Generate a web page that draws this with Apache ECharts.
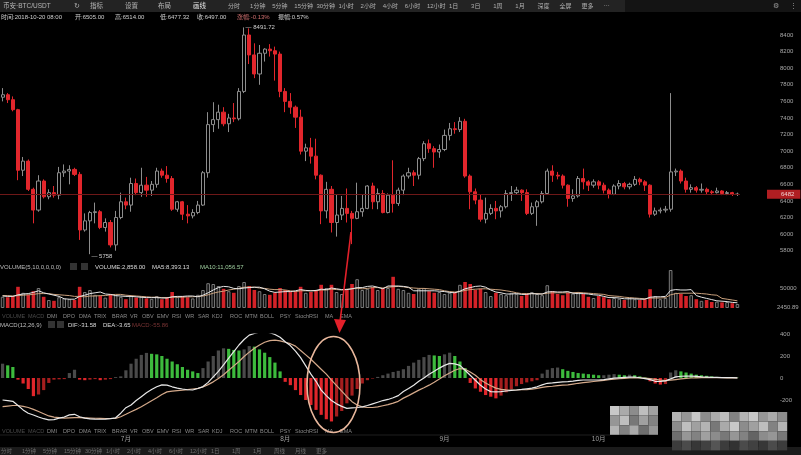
<!DOCTYPE html>
<html><head><meta charset="utf-8">
<script src="https://cdn.jsdelivr.net/npm/echarts@6/dist/echarts.min.js"></script>
<style>html,body{margin:0;padding:0;background:#000;}#c{width:801px;height:455px;}</style>
</head><body><div id="c"></div>
<script>
// ---------------- DATA ----------------
const dates = [
'06-07','06-08','06-09','06-10','06-11','06-12','06-13','06-14','06-15','06-16','06-17','06-18','06-19','06-20','06-21','06-22','06-23','06-24','06-25','06-26','06-27','06-28','06-29','06-30',
'07-01','07-02','07-03','07-04','07-05','07-06','07-07','07-08','07-09','07-10','07-11','07-12','07-13','07-14','07-15','07-16','07-17','07-18','07-19','07-20','07-21','07-22','07-23','07-24','07-25','07-26','07-27','07-28','07-29','07-30','07-31',
'08-01','08-02','08-03','08-04','08-05','08-06','08-07','08-08','08-09','08-10','08-11','08-12','08-13','08-14','08-15','08-16','08-17','08-18','08-19','08-20','08-21','08-22','08-23','08-24','08-25','08-26','08-27','08-28','08-29','08-30','08-31',
'09-01','09-02','09-03','09-04','09-05','09-06','09-07','09-08','09-09','09-10','09-11','09-12','09-13','09-14','09-15','09-16','09-17','09-18','09-19','09-20','09-21','09-22','09-23','09-24','09-25','09-26','09-27','09-28','09-29','09-30',
'10-01','10-02','10-03','10-04','10-05','10-06','10-07','10-08','10-09','10-10','10-11','10-12','10-13','10-14','10-15','10-16','10-17','10-18','10-19','10-20','10-21','10-22','10-23','10-24','10-25','10-26','10-27','10-28'];
const monthTicks = {'07-01':'7月','08-01':'8月','09-01':'9月','10-01':'10月'};

// [open, close, low, high]
const candles = [
[7650,7680,7600,7760],[7680,7620,7580,7700],[7620,7500,7480,7660],[7500,6770,6650,7510],[6770,6880,6700,6930],[6880,6540,6520,6900],[6540,6290,6130,6560],[6290,6640,6270,6710],[6640,6450,6430,6660],[6450,6500,6420,6540],[6500,6470,6440,6580],[6470,6740,6420,6810],[6740,6760,6690,6840],[6760,6780,6600,6830],[6780,6720,6700,6800],[6720,6050,5930,6750],[6050,6160,6030,6250],[6160,6260,5758,6280],[6260,6270,6130,6380],[6270,6080,6060,6290],[6080,6140,6030,6190],[6140,5870,5840,6170],[5870,6200,5800,6280],[6200,6390,6180,6500],
[6390,6350,6300,6440],[6350,6610,6270,6680],[6610,6500,6470,6670],[6500,6590,6450,6800],[6590,6530,6450,6690],[6530,6600,6460,6640],[6600,6760,6560,6800],[6760,6710,6680,6790],[6710,6670,6620,6820],[6670,6300,6280,6700],[6300,6390,6270,6400],[6390,6240,6170,6400],[6240,6220,6130,6350],[6220,6260,6190,6300],[6260,6350,6240,6400],[6350,6740,6340,6760],[6740,7320,6680,7470],[7320,7380,7230,7590],[7380,7470,7270,7560],[7470,7330,7300,7530],[7330,7400,7230,7450],[7400,7390,7350,7580],[7390,7720,7370,7760],[7720,8400,7700,8491.72],[8400,8160,8050,8480],[8160,7930,7880,8300],[7930,8180,7800,8280],[8180,8230,8080,8240],[8230,8210,8140,8290],[8210,8170,7850,8260],[8170,7720,7650,8200],
[7720,7600,7470,7760],[7600,7530,7450,7700],[7530,7410,7280,7550],[7410,7000,6960,7500],[7000,7040,6880,7090],[7040,6940,6850,7160],[6940,6710,6660,7150],[6710,6280,6120,6720],[6280,6540,6190,6630],[6540,6140,6020,6580],[6140,6230,5970,6480],[6230,6310,6170,6460],[6310,6250,6140,6550],[6250,6190,5880,6280],[6190,6270,6180,6620],[6270,6310,6210,6480],[6310,6580,6300,6590],[6580,6390,6300,6620],[6390,6490,6300,6550],[6490,6260,6250,6530],[6260,6470,6250,6490],[6470,6370,6260,6890],[6370,6530,6340,6560],[6530,6700,6470,6720],[6700,6740,6670,6800],[6740,6710,6580,6770],[6710,6910,6660,6930],[6910,7090,6880,7120],[7090,7030,6980,7140],[7030,6990,6800,7060],[6990,7020,6920,7080],
[7020,7190,7000,7260],[7190,7270,7130,7340],[7270,7260,7210,7350],[7260,7360,7230,7410],[7360,6700,6680,7390],[6700,6510,6300,6720],[6510,6410,6360,6550],[6410,6180,6150,6480],[6180,6250,6130,6440],[6250,6310,6230,6360],[6310,6280,6180,6400],[6280,6330,6200,6350],[6330,6490,6310,6530],[6490,6500,6400,6580],[6500,6530,6480,6570],[6530,6500,6400,6540],[6500,6250,6230,6540],[6250,6330,6230,6380],[6330,6390,6100,6410],[6390,6490,6370,6520],[6490,6760,6480,6790],[6760,6710,6630,6830],[6710,6700,6660,6750],[6700,6590,6550,6720],[6590,6430,6330,6600],[6430,6460,6390,6540],[6460,6670,6440,6700],[6670,6630,6540,6790],[6630,6590,6520,6650],[6590,6630,6560,6660],
[6630,6590,6540,6650],[6590,6530,6490,6620],[6530,6480,6430,6550],[6480,6580,6470,6600],[6580,6610,6540,6650],[6610,6570,6540,6630],[6570,6600,6540,6620],[6600,6660,6580,6700],[6660,6630,6590,6680],[6630,6590,6520,6650],[6590,6240,6200,6600],[6240,6280,6220,6320],[6280,6290,6250,6320],[6290,6300,6260,6340],[6300,6750,6270,7700],[6750,6760,6700,6790],[6760,6640,6610,6780],[6640,6540,6500,6680],[6540,6560,6500,6600],[6560,6530,6500,6580],[6530,6540,6500,6610],[6540,6510,6480,6560],[6510,6500,6470,6530],[6500,6520,6490,6560],[6520,6490,6470,6530],[6490,6500,6470,6520],[6500,6480,6460,6510],[6480,6482,6460,6500]];
const lastPrice = 6482;
const highMark = {index:47, value:8491.72};
const lowMark = {index:17, value:5758};

// volume in thousands
const volumeK = [
28,27,30,53,38,33,42,50,28,20,18,27,24,22,20,53,40,45,33,30,26,35,32,28,
22,30,26,28,24,23,30,22,25,40,28,30,27,24,33,45,62,60,55,48,42,38,55,65,55,45,42,35,33,38,50,
45,40,42,53,38,40,45,58,50,58,40,35,45,60,72,45,48,52,45,50,50,78,48,45,38,35,48,50,42,38,40,
35,38,40,58,65,60,45,48,40,30,38,35,32,38,35,30,36,40,35,32,57,42,35,32,38,36,40,35,28,25,
30,27,22,25,23,20,25,22,20,22,47,30,22,25,95,38,35,30,32,22,18,20,15,16,14,15,12,10];
const volMA5K = [
30,29,29,33,35,36,39,43,38,35,32,29,23,22,22,29,32,36,38,40,35,34,31,30,
29,29,28,27,26,26,26,25,25,28,29,29,30,30,28,32,38,45,51,54,53,49,48,50,51,52,52,48,42,39,40,
41,41,43,46,44,43,44,47,46,50,48,46,46,48,51,51,54,55,52,48,55,55,55,54,52,43,43,43,43,43,42,
41,39,38,42,48,51,54,55,52,45,40,38,35,35,36,34,34,36,35,35,40,41,40,40,41,37,36,36,35,33,
32,29,26,26,25,23,23,23,22,22,27,28,28,29,44,46,45,45,46,31,27,24,21,18,17,16,14,13];
const volMA10K = [
31,31,30,31,32,33,34,36,36,36,34,33,32,31,29,29,28,30,30,31,31,33,34,34,
32,31,30,29,28,27,27,26,26,27,27,27,28,28,29,30,33,37,40,42,45,47,49,52,52,52,50,49,47,46,46,
45,43,41,43,43,43,43,45,45,47,46,45,47,48,49,48,49,51,51,50,52,53,54,53,51,50,49,49,48,47,46,
43,41,40,41,44,46,47,48,48,47,46,45,43,41,38,36,36,36,36,35,37,38,38,38,38,38,39,38,37,36,
35,34,31,30,29,27,26,25,24,23,25,25,25,26,33,36,37,37,37,37,36,35,33,32,24,22,20,18];
const volumeTicksK = [50];
const volumeFloorLabel = 2.45089;

const macdDIF = [
-200,-205,-212,-250,-290,-320,-336,-355,-370,-380,-378,-365,-355,-335,-330,-352,-365,-372,-374,-375,-373,-370,-362,-320,-270,-245,-205,-170,-135,-105,
-80,-62,-65,-80,-92,-100,-107,-109,-95,-78,-40,10,60,120,180,240,300,350,390,405,418,421,412,395,370,330,295,245,185,110,
35,-30,-110,-160,-205,-235,-258,-276,-272,-268,-262,-250,-235,-220,-205,-195,-180,-160,
-122,-95,-65,-30,0,35,62,90,115,133,128,115,70,25,-20,-66,-100,-124,-126,-124,-118,-112,-109,-104,-98,-92,-80,-62,-48,-45,
-40,-36,-33,-28,-22,-18,-18,-18,-18,-14,-8,-2,2,5,8,9,2,-6,-15,-30,-32,-26,-8,10,16,18,17,14,10,8,6,5,4,3,3,2];
const macdDEA = [
-261,-255,-250,-250,-258,-268,-285,-305,-325,-345,-356,-361,-364,-362,-360,-360,-362,-364,-366,-367,-368,-368,-367,-352,-330,-307,-285,-262,-235,-207,
-180,-150,-126,-120,-115,-111,-106,-100,-95,-82,-60,-35,-5,30,70,110,150,195,235,270,300,325,340,345,338,325,312,290,250,210,
170,125,80,35,-20,-70,-120,-170,-215,-245,-262,-268,-268,-262,-252,-242,-228,-212,
-183,-160,-135,-110,-88,-65,-38,-10,20,45,70,86,80,55,25,-15,-45,-70,-92,-104,-108,-109,-109,-107,-105,-102,-95,-85,-79,-75,
-70,-65,-62,-55,-48,-42,-37,-32,-27,-22,-15,-11,-7,-3,0,1,0,-2,-5,-12,-20,-24,-20,-14,-8,-3,0,2,3,3,3,3,3,2,2,2];
const macdHist = [
130,115,100,-15,-50,-100,-165,-150,-110,-45,-15,-12,-10,45,75,-15,-20,-15,-10,-20,-15,-10,8,15,70,130,175,210,228,220,
215,200,175,150,125,100,75,60,45,90,150,200,250,270,265,255,250,260,290,285,260,230,190,140,60,-35,-65,-110,-155,-200,
-245,-290,-335,-375,-395,-350,-300,-230,-160,-100,-50,-20,-5,10,25,40,55,65,
80,110,140,165,190,210,205,200,215,230,200,150,90,-45,-95,-125,-155,-170,-185,-160,-130,-100,-75,-55,-40,-30,-20,40,75,90,
95,80,65,55,45,40,35,30,25,25,30,35,30,25,30,25,15,5,-30,-50,-60,-55,50,70,60,50,40,30,25,20,15,10,8,5,3,2];

// header texts
const infoItems = ['时间:2018-10-20 08:00','开:6505.00','高:6514.00','低:6477.32','收:6497.00','涨幅:-0.13%','振幅:0.57%'];
const volumeHeader = ['VOLUME(5,10,0,0,0,0)','VOLUME:2,858.00','MA5:8,393.13','MA10:11,056.57'];
const macdHeader = ['MACD(12,26,9)','DIF:-31.58','DEA:-3.65','MACD:-55.86'];
const tabItems = ['VOLUME','MACD','DMI','DPO','DMA','TRIX','BRAR','VR','OBV','EMV','RSI','WR','SAR','KDJ','ROC','MTM','BOLL','PSY','StochRSI','MA','EMA'];
const toolItems = ['币安·BTC/USDT','↻','指标','设置','布局','画线'];
const periodItems = ['分时','1分钟','5分钟','15分钟','30分钟','1小时','2小时','4小时','6小时','12小时','1日','3日','1周','1月','深度','全屏','更多','⋯'];
const bottomItems = ['分时','1分钟','5分钟','15分钟','30分钟','1小时','2小时','4小时','6小时','12小时','1日','1周','1月','周线','月线','更多'];

// ---------------- LAYOUT / STYLE ----------------
const FONT = '"Liberation Sans","Noto Sans CJK SC",sans-serif';
const UP_BORDER = '#8d8d8d', DOWN = '#e2262c';
function T(x, y, s, fill, size, extra) {
  return Object.assign({type:'text', x:x, y:y, z:50, silent:true,
    style:{text:s, fill:fill, fontSize:size||6, fontFamily:FONT, verticalAlign:'middle', textVerticalAlign:'middle'}}, extra||{});
}
const G = [];
// top toolbar
G.push({type:'rect', shape:{x:0,y:0,width:625,height:12}, style:{fill:'#232323'}, z:1});
G.push({type:'rect', shape:{x:625,y:0,width:176,height:12}, style:{fill:'#141414'}, z:1});
const toolX = [3,74,90,125,158,193];
toolItems.forEach((s,i)=>G.push(T(toolX[i],6,s,i===5?'#e6e6e6':'#b5b5b5',6.5)));
periodItems.forEach((s,i)=>G.push(T(228+i*22.1,6,s,'#b0b0b0',6)));
G.push(T(773,6,'⚙','#999',7)); G.push(T(790,6,'⋮','#999',7));
// info line
const infoX = [1,75,115,160,197,237,278];
infoItems.forEach((s,i)=>G.push(T(infoX[i],17,s,i===5?'#d07070':'#cfcfcf',6)));
// volume header
G.push(T(0,267,volumeHeader[0],'#bdbdbd',6));
G.push({type:'rect', shape:{x:70,y:263,width:7,height:7}, style:{fill:'#333'}, z:50});
G.push({type:'rect', shape:{x:81,y:263,width:7,height:7}, style:{fill:'#333'}, z:50});
G.push(T(95,267,volumeHeader[1],'#dcdcdc',6));
G.push(T(152,267,volumeHeader[2],'#dcdcdc',6));
G.push(T(200,267,volumeHeader[3],'#9fcf9f',6));
// macd header
G.push(T(0,325,macdHeader[0],'#bdbdbd',6));
G.push({type:'rect', shape:{x:48,y:321,width:7,height:7}, style:{fill:'#333'}, z:50});
G.push({type:'rect', shape:{x:57,y:321,width:7,height:7}, style:{fill:'#333'}, z:50});
G.push(T(68,325,macdHeader[1],'#dcdcdc',6));
G.push(T(103,325,macdHeader[2],'#dcdcdc',6));
G.push(T(132,325,macdHeader[3],'#7a3434',6));
// tab rows
const tabX = [2,28,47,63,79,94,112,130,142,157,172,185,198,212,230,245,260,280,295,325,340];
[316,431].forEach(yy=>tabItems.forEach((s,i)=>G.push(T(tabX[i],yy,s,i<2?'#4a4a4a':'#8a8a8a',5.5))));
// separators
G.push({type:'line', shape:{x1:0,y1:435,x2:610,y2:435}, style:{stroke:'#1e1e1e',lineWidth:1}, z:1});
// bottom strip
G.push({type:'rect', shape:{x:0,y:447,width:801,height:8}, style:{fill:'#1b1b1b'}, z:1});
bottomItems.forEach((s,i)=>G.push(T(1+i*21,451,s,'#6e6e6e',5.5)));
// annotations: arrow + ellipse
G.push({type:'line', shape:{x1:351,y1:232,x2:340,y2:322}, style:{stroke:'#e3202a',lineWidth:1.6}, z:60});
G.push({type:'polygon', shape:{points:[[334,319],[346,320],[339.5,333]]}, style:{fill:'#e3202a'}, z:60});
G.push({type:'ellipse', shape:{cx:333.5,cy:384.5,rx:26.5,ry:48}, style:{fill:'none',stroke:'#e8b79c',lineWidth:1.6}, z:60});
// mosaic watermark
const mosaicA = [[200,170,140,190,160],[150,190,120,160,130],[180,130,170,110,150]];
const mosaicB = [[180,150,200,140,170,190,130,180,200,150,170,140],[140,190,160,180,120,170,200,140,160,190,130,180],[110,150,130,160,140,120,150,130,100,140,150,120],[60,75,55,65,85,60,50,75,65,55,75,60]];
mosaicA.forEach((row,r)=>row.forEach((g,c)=>G.push({type:'rect',shape:{x:610+c*9.6,y:406+r*9.6,width:9.6,height:9.6},style:{fill:'rgb('+g+','+g+','+g+')'},z:70})));
mosaicB.forEach((row,r)=>row.forEach((g,c)=>G.push({type:'rect',shape:{x:672+c*9.6,y:412+r*9.6,width:9.6,height:9.6},style:{fill:'rgb('+g+','+g+','+g+')'},z:70})));

// ---------------- SERIES DATA STYLING ----------------
const volData = volumeK.map((v,i)=>{
  const up = candles[i][1] >= candles[i][0];
  return {value:v, itemStyle: up ? {color:'#111', borderColor:'#7a7a7a', borderWidth:1} : {color:'#d42228'}};
});
const histData = macdHist.map((v,i)=>{
  const p = i>0 ? macdHist[i-1] : 0;
  let c;
  if (v >= 0) c = v >= p ? '#4a4a4a' : '#3dbb3d';
  else c = v <= p ? '#e0262b' : '#a51e1e';
  return {value:v, itemStyle:{color:c}};
});

const gridL = 0, gridR = 61;
function xCat(gi, showLabels){
  return {type:'category', gridIndex:gi, data:dates, boundaryGap:true,
    axisLine:{show:false}, axisTick:{show:false}, splitLine:{show:false},
    axisLabel: showLabels ? {show:true, color:'#a0a0a0', fontSize:6.5, fontFamily:FONT, margin:14,
      interval:(idx,val)=>!!monthTicks[val], formatter:(val)=>monthTicks[val]||''} : {show:false}};
}
const axisLbl = {color:'#a8a8a8', fontSize:6, fontFamily:FONT, margin:40, formatter:(v)=>String(v)};

const option = {
  backgroundColor:'#000',
  animation:false,
  textStyle:{fontFamily:FONT},
  grid:[
    {left:gridL, right:gridR, top:18.41, height:248.9},
    {left:gridL, right:gridR, top:268, height:40},
    {left:gridL, right:gridR, top:334, height:88}
  ],
  xAxis:[xCat(0,false), xCat(1,false), xCat(2,true)],
  yAxis:[
    {gridIndex:0, type:'value', position:'right', min:5600, max:8600, interval:200,
     axisLine:{show:false}, axisTick:{show:false}, splitLine:{show:false},
     axisLabel:Object.assign({}, axisLbl, {showMinLabel:false, showMaxLabel:false})},
    {gridIndex:1, type:'value', position:'right', min:0, max:100, interval:50,
     axisLine:{show:false}, axisTick:{show:false}, splitLine:{show:false},
     axisLabel:Object.assign({}, axisLbl, {formatter:(v)=>volumeTicksK.indexOf(v)>=0 ? String(v*1000) : ''})},
    {gridIndex:2, type:'value', position:'right', min:-400, max:400, interval:200,
     axisLine:{show:false}, axisTick:{show:false}, splitLine:{show:false},
     axisLabel:Object.assign({}, axisLbl, {showMinLabel:false})}
  ],
  series:[
    {type:'candlestick', xAxisIndex:0, yAxisIndex:0, data:candles, barWidth:'70%',
     itemStyle:{color:'#000', color0:DOWN, borderColor:UP_BORDER, borderColor0:DOWN, borderWidth:1},
     markLine:{silent:true, symbol:['none','none'], data:[{yAxis:lastPrice}],
       lineStyle:{color:'#6e1818', width:1, type:'solid'},
       label:{show:true, position:'end', distance:27, formatter:String(lastPrice), color:'#f0d0d0',
         backgroundColor:'#b01e22', padding:[2,6,1,14], fontSize:6, fontFamily:FONT}},
     markPoint:{silent:true, symbol:'circle', symbolSize:1, itemStyle:{color:'rgba(0,0,0,0)'},
       label:{show:true, position:'right', distance:1, color:'#cfcfcf', fontSize:6, fontFamily:FONT},
       data:[
         {coord:[dates[highMark.index], highMark.value], label:{formatter:'— '+highMark.value.toFixed(2)}},
         {coord:[dates[lowMark.index], lowMark.value], label:{formatter:'— '+lowMark.value, offset:[0,2]}}
       ]}
    },
    {type:'bar', xAxisIndex:1, yAxisIndex:1, data:volData, barWidth:'70%',
     markLine:{silent:true, symbol:['none','none'], data:[{yAxis:volumeFloorLabel}],
       lineStyle:{color:'rgba(0,0,0,0)', width:0},
       label:{show:true, position:'end', distance:37, formatter:'2450.89', color:'#a8a8a8', fontSize:6, fontFamily:FONT}}},
    {type:'line', xAxisIndex:1, yAxisIndex:1, data:volMA10K, symbol:'none', lineStyle:{color:'#c9a07c', width:1}},
    {type:'line', xAxisIndex:1, yAxisIndex:1, data:volMA5K, symbol:'none', lineStyle:{color:'#e6e6e6', width:1}},
    {type:'bar', xAxisIndex:2, yAxisIndex:2, data:histData, barWidth:'62%'},
    {type:'line', xAxisIndex:2, yAxisIndex:2, data:macdDEA, symbol:'none', lineStyle:{color:'#d4a98a', width:1.2}},
    {type:'line', xAxisIndex:2, yAxisIndex:2, data:macdDIF, symbol:'none', lineStyle:{color:'#e8e8e8', width:1.2}}
  ],
  graphic:G
};
const chart = echarts.init(document.getElementById('c'), null, {renderer:'canvas'});
chart.setOption(option);
</script>
</body></html>
